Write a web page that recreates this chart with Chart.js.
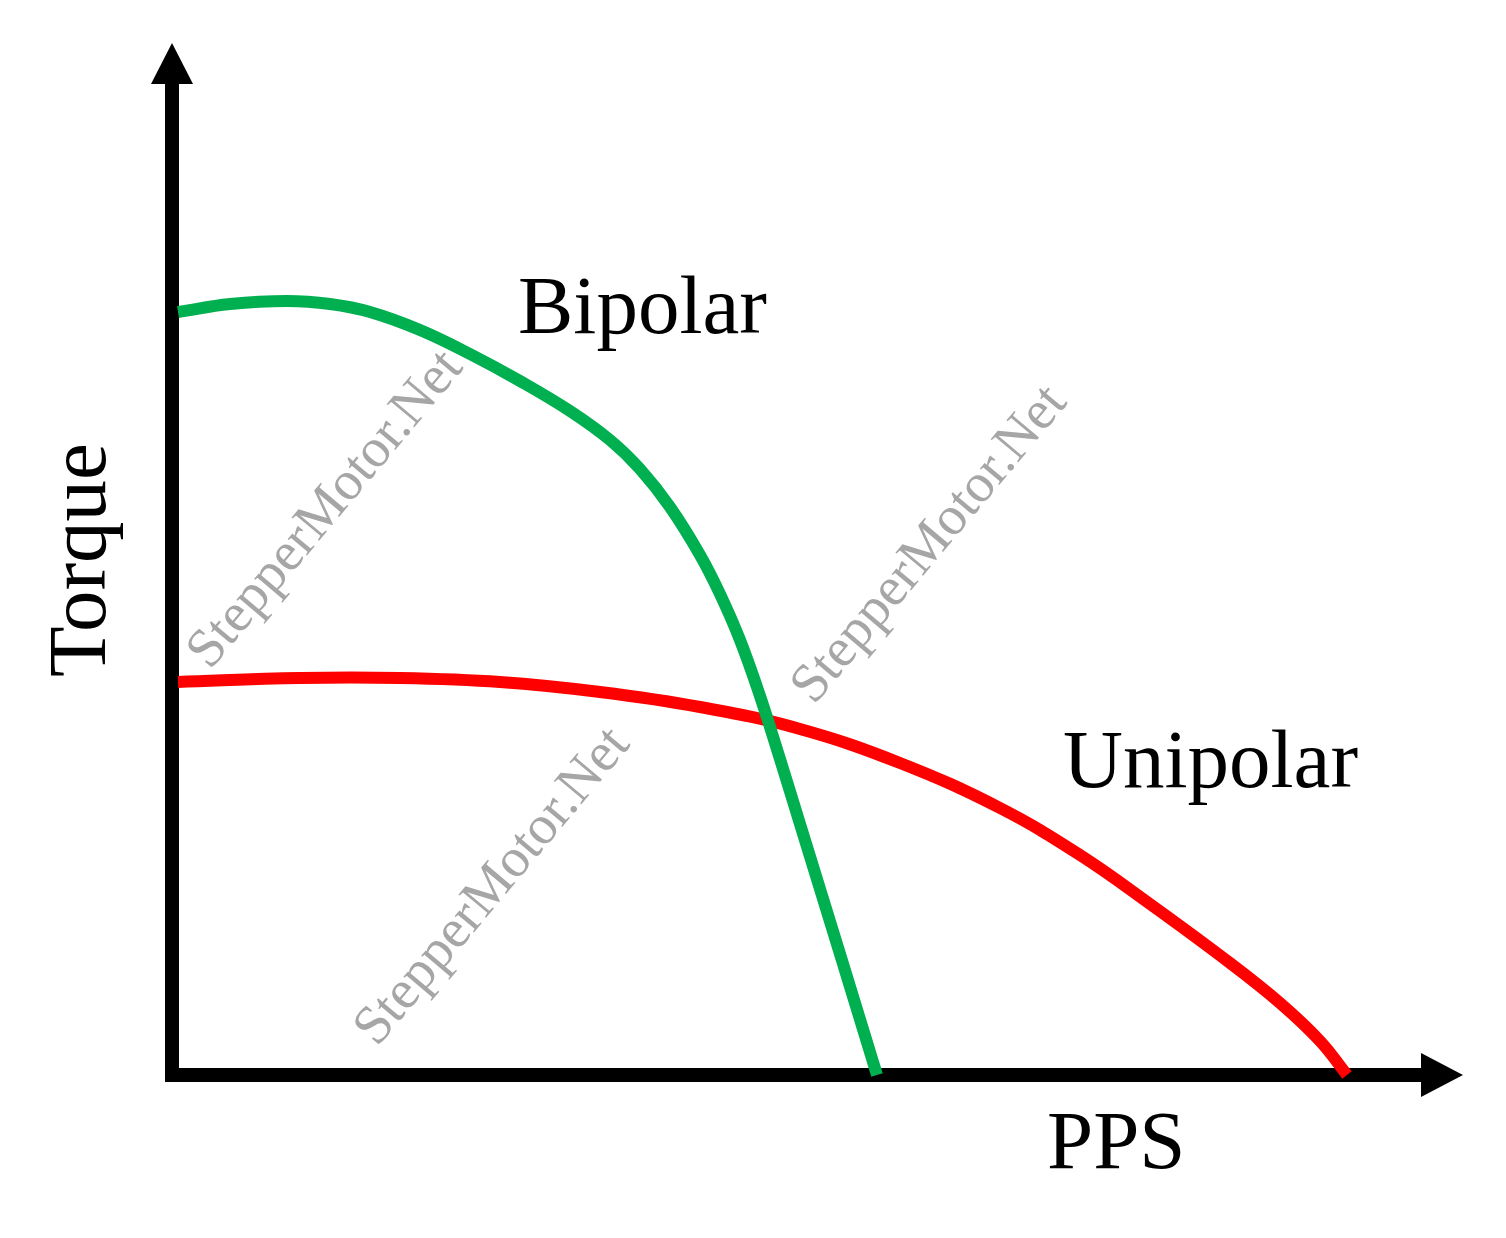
<!DOCTYPE html>
<html>
<head>
<meta charset="utf-8">
<script src="https://cdn.jsdelivr.net/npm/chart.js@4.4.1/dist/chart.umd.min.js"></script>
<style>
  html, body { margin: 0; padding: 0; background: #fff; }
  #wrap { width: 1506px; height: 1238px; position: relative; }
</style>
</head>
<body>
<div id="wrap"><canvas id="torqueChart" width="1506" height="1238"></canvas></div>
<script>
// Curve data (x = speed, y = torque, arbitrary units)
const bipolarX = [0.6, 5.8, 11.5, 15.8, 19.8, 24.8, 29.8, 34.8, 39.8, 43.8, 46.8, 49.8, 52.8, 54.8, 56.8, 58.8, 60.8, 62.8, 66.8, 70.5];
const bipolarY = [76.3, 77.1, 77.4, 77.1, 76.3, 74.5, 72.1, 69.4, 66.4, 63.5, 60.6, 56.8, 52.0, 48.1, 43.5, 37.9, 31.6, 25.1, 12.1, 0];

const unipolarX = [0.6, 12.8, 22.8, 32.8, 42.8, 52.8, 62.8, 72.8, 82.8, 90.8, 97.8, 105.8, 110.8, 114.8, 117.5];
const unipolarY = [39.3, 39.7, 39.7, 39.3, 38.3, 36.8, 34.6, 31.2, 26.7, 22.0, 17.1, 11.2, 7.2, 3.4, 0];

const axisMaxX = 129.1;
const axisMaxY = 103.2;

// Text labels: [text, x, y] in data units
const curveLabels = [
    ['Bipolar', 34.6, 74.2],
    ['Unipolar', 89.1, 28.8]
];
const watermarks = [[15.4, 56.5], [75.8, 53.0], [32.1, 18.8]];

function toPoints(xs, ys) {
    return xs.map((x, i) => ({ x: x, y: ys[i] }));
}

// Draws the black axes with arrow heads, behind the curves
const axesPlugin = {
    id: 'axes',
    beforeDatasetsDraw(chart) {
        const c = chart.ctx;
        const xs = chart.scales.x;
        const ys = chart.scales.y;
        const x0 = xs.getPixelForValue(0);
        const y0 = ys.getPixelForValue(0);
        const xTip = xs.getPixelForValue(axisMaxX);
        const yTip = ys.getPixelForValue(axisMaxY);
        c.save();
        c.fillStyle = '#000';
        // shafts
        c.fillRect(x0 - 7, yTip + 40, 14, y0 + 7 - (yTip + 40));
        c.fillRect(x0 - 7, y0 - 7, xTip - 42 - (x0 - 7), 14);
        // arrow heads
        c.beginPath();
        c.moveTo(x0, yTip);
        c.lineTo(x0 + 21, yTip + 41);
        c.lineTo(x0 - 21, yTip + 41);
        c.closePath();
        c.fill();
        c.beginPath();
        c.moveTo(xTip, y0);
        c.lineTo(xTip - 42, y0 - 22);
        c.lineTo(xTip - 42, y0 + 22);
        c.closePath();
        c.fill();

        // watermarks
        c.fillStyle = '#a6a6a6';
        c.font = '55px "Liberation Serif", "Times New Roman", serif';
        c.textAlign = 'center';
        c.textBaseline = 'middle';
        watermarks.forEach(([wx, wy]) => {
            c.save();
            c.translate(xs.getPixelForValue(wx), ys.getPixelForValue(wy));
            c.rotate(-50 * Math.PI / 180);
            c.fillText('StepperMotor.Net', 0, 0);
            c.restore();
        });
        c.restore();
    },
    afterDatasetsDraw(chart) {
        const c = chart.ctx;
        const xs = chart.scales.x;
        const ys = chart.scales.y;
        c.save();
        c.fillStyle = '#000';
        c.font = '83px "Liberation Serif", "Times New Roman", serif';
        c.textBaseline = 'alphabetic';
        c.textAlign = 'left';
        curveLabels.forEach(([t, lx, ly]) => {
            c.fillText(t, xs.getPixelForValue(lx), ys.getPixelForValue(ly));
        });
        // axis titles
        c.fillText('PPS', 1047, 1168);
        c.save();
        c.translate(105, 560);
        c.rotate(-Math.PI / 2);
        c.textAlign = 'center';
        c.fillText('Torque', 0, 0);
        c.restore();
        c.restore();
    }
};

const ctx = document.getElementById('torqueChart').getContext('2d');
const torqueChart = new Chart(ctx, {
    type: 'scatter',
    data: {
        datasets: [
            {
                label: 'Bipolar',
                data: toPoints(bipolarX, bipolarY),
                showLine: true,
                borderColor: '#00b050',
                borderWidth: 12,
                pointRadius: 0,
                tension: 0.4,
                borderCapStyle: 'butt',
                clip: false
            },
            {
                label: 'Unipolar',
                data: toPoints(unipolarX, unipolarY),
                showLine: true,
                borderColor: '#ff0000',
                borderWidth: 12,
                pointRadius: 0,
                tension: 0.4,
                borderCapStyle: 'butt',
                clip: false
            }
        ]
    },
    options: {
        responsive: false,
        animation: false,
        layout: {
            padding: { left: 172, right: 43, top: 43, bottom: 163 }
        },
        scales: {
            x: { type: 'linear', min: 0, max: axisMaxX, display: false },
            y: { type: 'linear', min: 0, max: axisMaxY, display: false }
        },
        plugins: {
            legend: { display: false },
            tooltip: { enabled: false }
        }
    },
    plugins: [axesPlugin]
});
</script>
</body>
</html>
